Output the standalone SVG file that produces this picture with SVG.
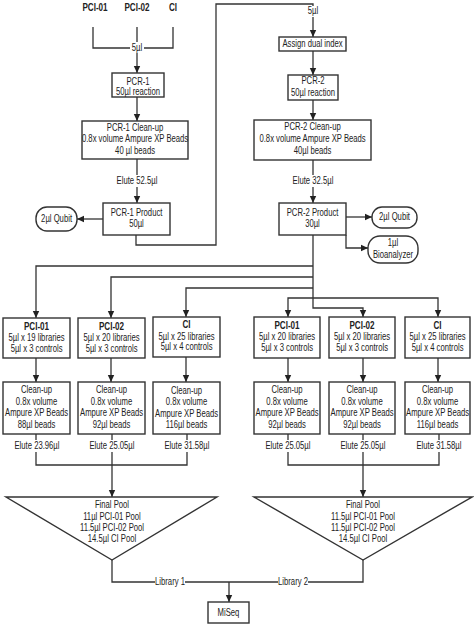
<svg xmlns="http://www.w3.org/2000/svg" width="474" height="626" viewBox="0 0 474 626">
<defs>
<marker id="ah" markerWidth="8" markerHeight="8" refX="7" refY="4" orient="auto" markerUnits="userSpaceOnUse">
<path d="M0,0.8 L7,4 L0,7.2 Z" fill="#222"/>
</marker>
<style>
.t{font-family:"Liberation Sans",Arial,sans-serif;font-size:10px;fill:#222;text-anchor:middle;transform-box:fill-box;transform-origin:center;transform:scaleX(0.77)}
.b{font-weight:bold;font-size:10.5px}
.box{fill:#fff;stroke:#333;stroke-width:1.4}
.ln{fill:none;stroke:#333;stroke-width:1.3}
.ar{fill:none;stroke:#333;stroke-width:1.3;marker-end:url(#ah)}
.bg{fill:#fff}
</style>
</defs>
<rect width="474" height="626" fill="#fff"/>

<g id="connectors">
<path class="ln" d="M93,27 V48 H173 V27 M137,27 V48"/>
<path class="ar" d="M137,48 V73"/>
<path class="ar" d="M137,97 V121"/>
<path class="ar" d="M137,159 V203"/>
<path class="ar" d="M103,219 H77"/>
<path class="ar" d="M136,235 V245 H216 V4 H313 V37"/>
<path class="ar" d="M313,51 V75"/>
<path class="ar" d="M313,100 V120"/>
<path class="ar" d="M313,160 V203"/>
<path class="ar" d="M346,217 H372"/>
<path class="ar" d="M346,235 V248 H368"/>
<path class="ar" d="M313,235 V308 H363 V317"/>
<path class="ar" d="M313,266 H36 V318"/>
<path class="ar" d="M313,277 H111 V318"/>
<path class="ar" d="M313,288 H186 V317"/>
<path class="ar" d="M313,298 H288 V317"/>
<path class="ar" d="M313,298 H438 V317"/>
<path class="ar" d="M36,358 V382"/>
<path class="ar" d="M111,358 V382"/>
<path class="ar" d="M186,357 V382"/>
<path class="ar" d="M288,358 V382"/>
<path class="ar" d="M363,358 V382"/>
<path class="ar" d="M438,358 V382"/>
<path class="ln" d="M36,434 V465 H187 V434"/>
<path class="ar" d="M112,434 V497"/>
<path class="ln" d="M288,434 V465 H439 V434"/>
<path class="ar" d="M363,434 V497"/>
<path class="ln" d="M112,560 V582 H363 V560"/>
<path class="ar" d="M229,582 V602"/>
<rect class="bg" x="130" y="42" width="14" height="11"/>
<text class="t" x="137" y="51.5">5µl</text>
<rect class="bg" x="306" y="6" width="14" height="11"/>
<text class="t" x="313" y="14.5">5µl</text>
<rect class="bg" x="116" y="175" width="42" height="12"/>
<text class="t" x="137" y="184.5">Elute 52.5µl</text>
<rect class="bg" x="292" y="175" width="42" height="12"/>
<text class="t" x="313" y="184.5">Elute 32.5µl</text>
<rect class="bg" x="14" y="440" width="46" height="12"/>
<text class="t" x="37" y="449.5">Elute 23.96µl</text>
<rect class="bg" x="89" y="440" width="46" height="12"/>
<text class="t" x="112" y="449.5">Elute 25.05µl</text>
<rect class="bg" x="164" y="440" width="46" height="12"/>
<text class="t" x="187" y="449.5">Elute 31.58µl</text>
<rect class="bg" x="265" y="440" width="46" height="12"/>
<text class="t" x="288" y="449.5">Elute 25.05µl</text>
<rect class="bg" x="340" y="440" width="46" height="12"/>
<text class="t" x="363" y="449.5">Elute 25.05µl</text>
<rect class="bg" x="416" y="440" width="46" height="12"/>
<text class="t" x="439" y="449.5">Elute 31.58µl</text>
<rect class="bg" x="155" y="576" width="30" height="12"/>
<text class="t" x="170" y="585.5">Library 1</text>
<rect class="bg" x="278" y="576" width="30" height="12"/>
<text class="t" x="293" y="585.5">Library 2</text>
</g>

<g id="src-pci01"><text class="t b" x="95" y="11">PCI-01</text></g>
<g id="src-pci02"><text class="t b" x="137" y="11">PCI-02</text></g>
<g id="src-ci"><text class="t b" x="173" y="11">CI</text></g>

<g id="pcr1"><rect class="box" x="112" y="73" width="52" height="24"/>
<text class="t" x="138" y="85.5">PCR-1</text><text class="t" x="138" y="95.5">50µl reaction</text></g>
<g id="pcr1-cleanup"><rect class="box" x="82" y="121" width="106" height="38"/>
<text class="t" x="135" y="131.5">PCR-1 Clean-up</text><text class="t" x="135" y="142.5">0.8x volume Ampure XP Beads</text><text class="t" x="135" y="154.5">40 µl beads</text></g>
<g id="pcr1-product"><rect class="box" x="103" y="203" width="67" height="32"/>
<text class="t" x="136.5" y="216.5">PCR-1 Product</text><text class="t" x="136.5" y="227.5">50µl</text></g>
<g id="qubit1"><rect class="box" x="36" y="207" width="41" height="24" rx="11"/>
<text class="t" x="56.5" y="222.5">2µl Qubit</text></g>

<g id="assign"><rect class="box" x="279" y="37" width="67" height="14"/>
<text class="t" x="312.5" y="47.5">Assign dual index</text></g>
<g id="pcr2"><rect class="box" x="288" y="75" width="50" height="25"/>
<text class="t" x="313" y="84.5">PCR-2</text><text class="t" x="313" y="96">50µl reaction</text></g>
<g id="pcr2-cleanup"><rect class="box" x="254" y="120" width="117" height="40"/>
<text class="t" x="312.5" y="130.5">PCR-2 Clean-up</text><text class="t" x="312.5" y="142.5">0.8x volume Ampure XP Beads</text><text class="t" x="312.5" y="154.5">40µl beads</text></g>
<g id="pcr2-product"><rect class="box" x="279" y="203" width="67" height="32"/>
<text class="t" x="312.5" y="216.5">PCR-2 Product</text><text class="t" x="312.5" y="227">30µl</text></g>
<g id="qubit2"><rect class="box" x="372" y="207" width="45" height="21" rx="10"/>
<text class="t" x="394.5" y="220.5">2µl Qubit</text></g>
<g id="bioanalyzer"><rect class="box" x="368" y="236" width="50" height="27" rx="12"/>
<text class="t" x="393" y="246.5">1µl</text><text class="t" x="393" y="258">Bioanalyzer</text></g>

<g id="l-pci01"><rect class="box" x="3" y="318" width="67" height="40"/>
<text class="t b" x="36.5" y="330">PCI-01</text><text class="t" x="36.5" y="341.5">5µl x 19 libraries</text><text class="t" x="36.5" y="352">5µl x 3 controls</text></g>
<g id="l-pci02"><rect class="box" x="78" y="318" width="67" height="40"/>
<text class="t b" x="111.5" y="330">PCI-02</text><text class="t" x="111.5" y="341.5">5µl x 20 libraries</text><text class="t" x="111.5" y="352">5µl x 3 controls</text></g>
<g id="l-ci"><rect class="box" x="153" y="317" width="67" height="40"/>
<text class="t b" x="186.5" y="328">CI</text><text class="t" x="186.5" y="340">5µl x 25 libraries</text><text class="t" x="186.5" y="350.5">5µl x 4 controls</text></g>

<g id="l-clean1"><rect class="box" x="3" y="382" width="67" height="52"/>
<text class="t" x="36.5" y="393.5">Clean-up</text><text class="t" x="36.5" y="405">0.8x volume</text><text class="t" x="36.5" y="416.5">Ampure XP Beads</text><text class="t" x="36.5" y="428">88µl beads</text></g>
<g id="l-clean2"><rect class="box" x="78" y="382" width="67" height="52"/>
<text class="t" x="111.5" y="393.5">Clean-up</text><text class="t" x="111.5" y="405">0.8x volume</text><text class="t" x="111.5" y="416.5">Ampure XP Beads</text><text class="t" x="111.5" y="428">92µl beads</text></g>
<g id="l-clean3"><rect class="box" x="153" y="382" width="67" height="52"/>
<text class="t" x="186.5" y="394">Clean-up</text><text class="t" x="186.5" y="405.5">0.8x volume</text><text class="t" x="186.5" y="417">Ampure XP Beads</text><text class="t" x="186.5" y="428.5">116µl beads</text></g>

<g id="r-pci01"><rect class="box" x="254" y="317" width="66" height="41"/>
<text class="t b" x="287" y="329">PCI-01</text><text class="t" x="287" y="340.5">5µl x 20 libraries</text><text class="t" x="287" y="351.5">5µl x 3 controls</text></g>
<g id="r-pci02"><rect class="box" x="329" y="317" width="66" height="41"/>
<text class="t b" x="362" y="329">PCI-02</text><text class="t" x="362" y="340.5">5µl x 20 libraries</text><text class="t" x="362" y="351.5">5µl x 3 controls</text></g>
<g id="r-ci"><rect class="box" x="405" y="317" width="65" height="41"/>
<text class="t b" x="437.5" y="329">CI</text><text class="t" x="437.5" y="340.5">5µl x 25 libraries</text><text class="t" x="437.5" y="351.5">5µl x 4 controls</text></g>

<g id="r-clean1"><rect class="box" x="254" y="382" width="66" height="52"/>
<text class="t" x="287" y="393.5">Clean-up</text><text class="t" x="287" y="405">0.8x volume</text><text class="t" x="287" y="416.5">Ampure XP Beads</text><text class="t" x="287" y="428">92µl beads</text></g>
<g id="r-clean2"><rect class="box" x="329" y="382" width="66" height="52"/>
<text class="t" x="362" y="393.5">Clean-up</text><text class="t" x="362" y="405">0.8x volume</text><text class="t" x="362" y="416.5">Ampure XP Beads</text><text class="t" x="362" y="428">92µl beads</text></g>
<g id="r-clean3"><rect class="box" x="405" y="382" width="65" height="52"/>
<text class="t" x="437.5" y="393.5">Clean-up</text><text class="t" x="437.5" y="405">0.8x volume</text><text class="t" x="437.5" y="416.5">Ampure XP Beads</text><text class="t" x="437.5" y="428">116µl beads</text></g>

<g id="pool1"><polygon class="box" points="6,497 217,497 112,560"/>
<text class="t" x="112" y="508.5">Final Pool</text><text class="t" x="112" y="520.5">11µl PCI-01 Pool</text><text class="t" x="112" y="531.5">11.5µl PCI-02 Pool</text><text class="t" x="112" y="542.5">14.5µl CI Pool</text></g>
<g id="pool2"><polygon class="box" points="254,497 472,497 363,560"/>
<text class="t" x="363" y="508.5">Final Pool</text><text class="t" x="363" y="520.5">11.5µl PCI-01 Pool</text><text class="t" x="363" y="531.5">11.5µl PCI-02 Pool</text><text class="t" x="363" y="542.5">14.5µl CI Pool</text></g>

<g id="miseq"><rect class="box" x="208" y="602" width="41" height="21"/>
<text class="t" x="228.5" y="616">MiSeq</text></g>
</svg>
